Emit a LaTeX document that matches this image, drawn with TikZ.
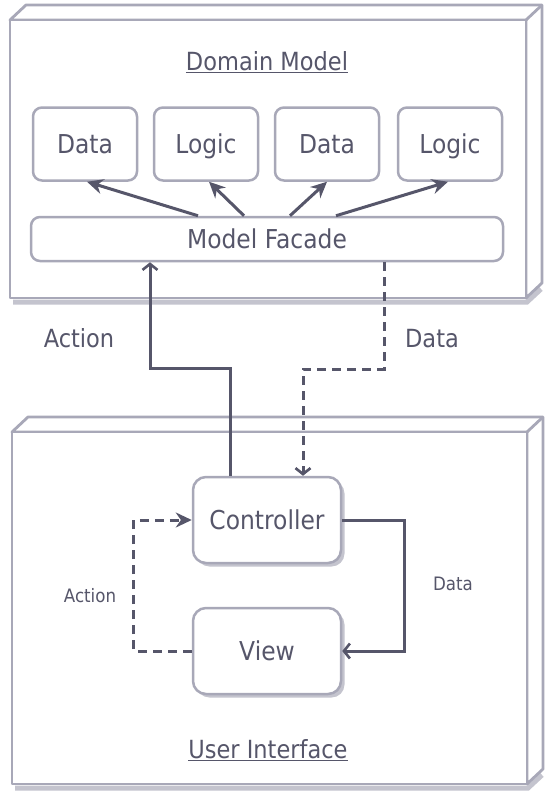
\documentclass[tikz,border=0pt]{standalone}
\usepackage{fontspec}
\setmainfont[FakeStretch=0.9]{DejaVu Sans}
\usetikzlibrary{arrows.meta,shadows,positioning}
\definecolor{frame}{RGB}{168,168,184}
\definecolor{ink}{RGB}{86,86,106}
\definecolor{slabshadow}{RGB}{196,196,206}
\tikzset{
	slab/.style={draw=frame,line width=2.8pt,fill=white,line join=round},
	box/.style={draw=frame,line width=2.5pt,rounded corners=9pt,fill=white,text=ink,inner sep=0pt,text height=19pt,text depth=0pt,font=\fontsize{26}{30}\selectfont},
	part/.style={box,minimum width=104pt,minimum height=73pt},
	mvc/.style={box,rounded corners=13pt,minimum width=148pt,minimum height=86pt,drop shadow={shadow xshift=3.5pt,shadow yshift=-3.5pt,fill=slabshadow,opacity=1}},
	title/.style={text=ink,anchor=base,font=\fontsize{25}{30}\selectfont},
	tag/.style={text=ink,anchor=base,font=\fontsize{25}{30}\selectfont},
	smalltag/.style={text=ink,anchor=base,font=\fontsize{18.5}{22}\selectfont},
	flow/.style={draw=ink,line width=3pt},
	dashflow/.style={flow,dash pattern=on 9pt off 6pt},
	solidtip/.style={-{Stealth[length=16pt,width=15pt]}},
	opentip/.style={-{Straight Barb[length=6pt,width=15pt,line width=2.6pt]}}
}
\begin{document}
\begin{tikzpicture}[x=1pt,y=-1pt]
	\useasboundingbox[fill=white] (0,0) rectangle (558,793);
	% domain model slab
	\draw[slabshadow,line width=5pt] (13,302) -- (527,302) -- (541,289);
	\draw[slab] (10,20) -- (26,5) -- (542,5) -- (542,283) -- (526,298) -- (526,20) -- cycle;
	\draw[slab] (526,20) -- (542,5);
	\draw[slab] (10,20) rectangle (526,298);
	% user interface slab
	\draw[slabshadow,line width=5pt] (15,788) -- (528,788) -- (542,775);
	\draw[slab] (12,432) -- (28,417) -- (543,417) -- (543,769) -- (527,784) -- (527,432) -- cycle;
	\draw[slab] (527,432) -- (543,417);
	\draw[slab] (12,432) rectangle (527,784);

	\node[title] (dmtitle) at (267,70) {\underline{Domain Model}};
	\node[part] (data1) at (85,144) {Data};
	\node[part] (logic1) at (206,144) {Logic};
	\node[part] (data2) at (327,144) {Data};
	\node[part] (logic2) at (450,144) {Logic};
	\node[box,minimum width=472pt,minimum height=44pt] (facade) at (267,239) {Model Facade};

	\node[mvc] (ctrl) at (267,520) {Controller};
	\node[mvc] (view) at (267,651) {View};
	\node[title] (uititle) at (268,758) {\underline{User Interface}};

	\node[tag] (actlabel) at (79,347) {Action};
	\node[tag] (datalabel) at (432,347) {Data};
	\node[smalltag] (actsmall) at (90,602) {Action};
	\node[smalltag] (datasmall) at (453,590) {Data};

	\draw[flow,solidtip] ([xshift=-69pt]facade.north) -- ([xshift=2pt]data1.south);
	\draw[flow,solidtip] ([xshift=-23pt]facade.north) -- ([xshift=3pt]logic1.south);
	\draw[flow,solidtip] ([xshift=23pt]facade.north) -- (data2.south);
	\draw[flow,solidtip] ([xshift=69pt]facade.north) -- ([xshift=-2pt]logic2.south);

	\coordinate (actbend) at (150,368);
	\coordinate (databend) at (303,369);
	\draw[flow,opentip] ([xshift=-37pt]ctrl.north) |- (actbend) -- ([xshift=-117pt]facade.south);
	\draw[dashflow,opentip] ([xshift=117pt]facade.south) |- (databend) -- ([xshift=36pt]ctrl.north);

	\draw[dashflow,solidtip] (view.west) -- ++(-58,0) |- (ctrl.west);
	\draw[flow,opentip] (ctrl.east) -- ++(62,0) |- (view.east);
\end{tikzpicture}
\end{document}
